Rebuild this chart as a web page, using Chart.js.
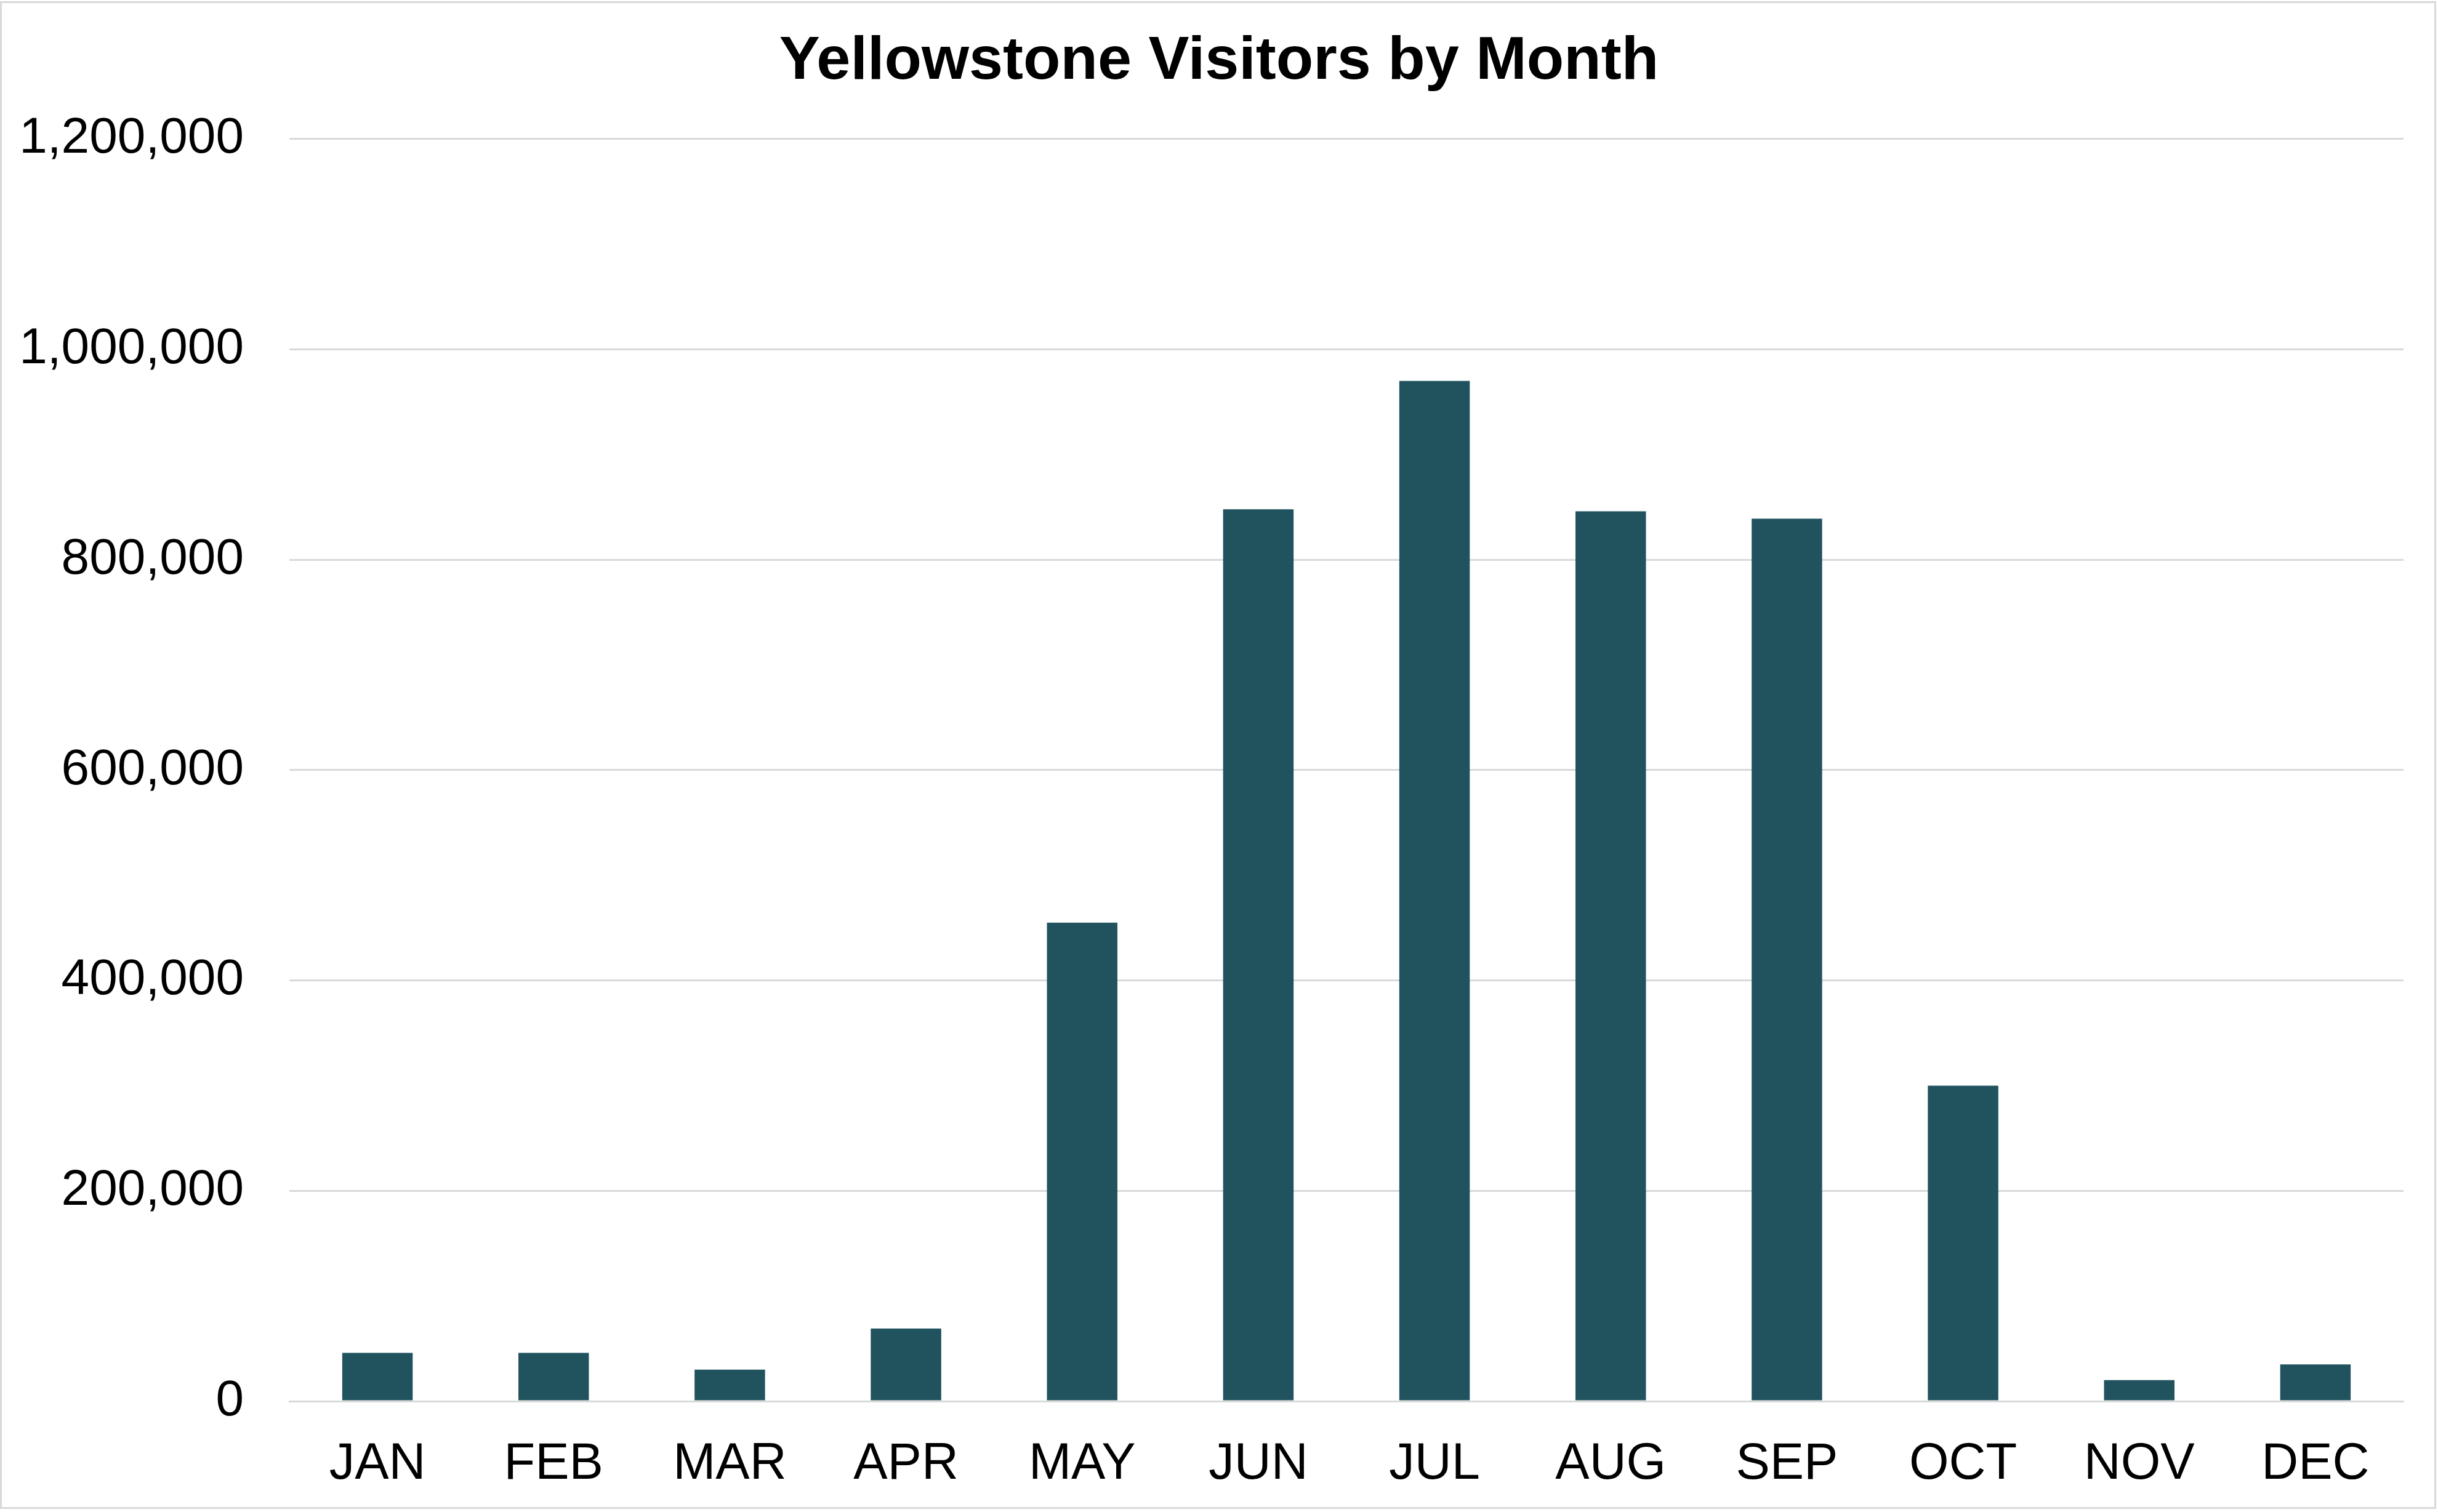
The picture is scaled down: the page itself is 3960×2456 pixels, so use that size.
<!DOCTYPE html>
<html>
<head>
<meta charset="utf-8">
<script src="https://cdn.jsdelivr.net/npm/chart.js"></script>
<style>
    html, body { margin: 0; padding: 0; background: #ffffff; }
    #wrap { width: 3960px; height: 2456px; position: relative; }
</style>
</head>
<body>
<div id="wrap"><canvas id="myChart"></canvas></div>
<script>
    const months = ['JAN', 'FEB', 'MAR', 'APR', 'MAY', 'JUN', 'JUL', 'AUG', 'SEP', 'OCT', 'NOV', 'DEC']
    const visitors = [46000, 46000, 30000, 69000, 455000, 848000, 970000, 846000, 839000, 300000, 20000, 35000]
    const yMax = 1200000
    const yStep = 200000

    // light frame round the whole picture
    const framePlugin = {
        id: 'frame',
        afterDraw(chart) {
            const ctx = chart.ctx
            ctx.save()
            ctx.strokeStyle = '#d9d9d9'
            ctx.lineWidth = 3
            ctx.strokeRect(1.5, 3.5, chart.width - 6, chart.height - 10)
            ctx.restore()
        }
    }

    new Chart(document.getElementById('myChart'), {
        type: 'bar',
        data: {
            labels: months,
            datasets: [{
                label: 'Visitors',
                data: visitors,
                backgroundColor: '#20535e',
                barPercentage: 0.4,
                categoryPercentage: 1.0
            }]
        },
        options: {
            responsive: true,
            maintainAspectRatio: false,
            animation: false,
            devicePixelRatio: 1,
            layout: { padding: 0 },
            plugins: {
                legend: { display: false },
                tooltip: { enabled: false },
                title: {
                    display: true,
                    text: 'Yellowstone Visitors by Month',
                    color: '#000000',
                    font: { family: 'Liberation Sans, Arial, sans-serif', size: 99, weight: 'bold', lineHeight: 1.2 },
                    padding: { top: 41, bottom: 66 }
                }
            },
            scales: {
                x: {
                    grid: { display: false },
                    border: { display: true, color: '#d9d9d9', width: 3 },
                    ticks: {
                        color: '#000000',
                        padding: 45,
                        font: { family: 'Liberation Sans, Arial, sans-serif', size: 83 }
                    },
                    afterFit: (scale) => { scale.height = 180 }
                },
                y: {
                    min: 0,
                    max: yMax,
                    grid: { color: '#d9d9d9', lineWidth: 3, drawTicks: false },
                    border: { display: false },
                    ticks: {
                        stepSize: yStep,
                        color: '#000000',
                        padding: 74,
                        font: { family: 'Liberation Sans, Arial, sans-serif', size: 82 },
                        callback: (v) => v.toLocaleString('en-US')
                    },
                    afterFit: (scale) => { scale.width = 470 }
                },
                // empty strip on the right so the plot ends where the reference does
                yRight: {
                    position: 'right',
                    grid: { display: false },
                    border: { display: false },
                    ticks: { display: false },
                    afterFit: (scale) => { scale.width = 56 }
                }
            }
        },
        plugins: [framePlugin]
    })
</script>
</body>
</html>
